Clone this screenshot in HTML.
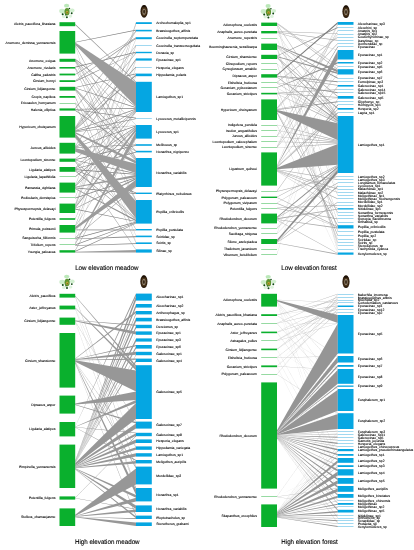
<!DOCTYPE html><html><head><meta charset="utf-8"><style>html,body{margin:0;padding:0;background:#fff;width:414px;height:550px;overflow:hidden}svg{display:block}text{font-family:"Liberation Sans",Arial,sans-serif;text-rendering:geometricPrecision}</style></head><body>
<svg width="414" height="550" viewBox="0 0 414 550">
<rect width="414" height="550" fill="#fff"/>
<g fill="#a3a3a3">
<polygon points="75.2,131.44 136,125.28 136,125.57 75.2,131.96" fill="#7e7e7e"/>
<polygon points="75.2,59.4 136,125 136,125.28 75.2,60" fill="#7e7e7e"/>
<polygon points="75.2,89.67 136,200.87 136,201.16 75.2,90.27" fill="#7e7e7e"/>
<polygon points="75.2,205.2 136,45.96 136,46.3 75.2,205.8" fill="#7e7e7e"/>
<polygon points="75.2,206.4 136,111.65 136,112 75.2,207" fill="#7e7e7e"/>
<polygon points="75.2,185 136,38.8 136,39.2 75.2,185.6" fill="#7e7e7e"/>
<polygon points="75.2,81.1 136,52.4 136,52.8 75.2,81.7" fill="#7e7e7e"/>
<polygon points="75.2,128.34 136,52.8 136,53.2 75.2,128.94" fill="#7e7e7e"/>
<polygon points="75.2,205.8 136,59.8 136,60.2 75.2,206.4" fill="#7e7e7e"/>
<polygon points="75.2,242.94 136,60.2 136,60.6 75.2,243.54" fill="#7e7e7e"/>
<polygon points="75.2,225.85 136,67.6 136,68 75.2,226.45" fill="#7e7e7e"/>
<polygon points="75.2,218.7 136,75.8 136,76.2 75.2,219.3" fill="#7e7e7e"/>
<polygon points="75.2,147.51 136,144.6 136,145 75.2,148.11" fill="#7e7e7e"/>
<polygon points="75.2,110.1 136,151.3 136,151.7 75.2,110.7" fill="#7e7e7e"/>
<polygon points="75.2,137.26 136,229 136,229.4 75.2,137.86" fill="#7e7e7e"/>
<polygon points="75.2,96.6 136,235.6 136,236 75.2,97.2" fill="#7e7e7e"/>
<polygon points="75.2,103.1 136,242.8 136,243.2 75.2,103.7" fill="#7e7e7e"/>
<polygon points="75.2,60 136,144.2 136,144.6 75.2,60.6" fill="#7e7e7e"/>
<polygon points="75.2,45.4 136,242.4 136,242.8 75.2,46" fill="#7e7e7e"/>
<polygon points="75.2,167.66 136,110.52 136,111.05 75.2,168.14" fill="#7e7e7e"/>
<polygon points="75.2,197.2 136,45.53 136,45.96 75.2,197.8" fill="#7e7e7e"/>
<polygon points="75.2,127.74 136,45.1 136,45.53 75.2,128.34" fill="#7e7e7e"/>
<polygon points="75.2,61.2 136,200 136,200.43 75.2,61.8" fill="#7e7e7e"/>
<polygon points="75.2,67.45 136,159.14 136,159.58 75.2,68.05" fill="#7e7e7e"/>
<polygon points="75.2,102.5 136,160.19 136,160.63 75.2,103.1" fill="#7e7e7e"/>
<polygon points="75.2,44.8 136,158 136,158.44 75.2,45.4" fill="#7e7e7e"/>
<polygon points="75.2,146.39 136,109.52 136,110.05 75.2,146.91" fill="#7e7e7e"/>
<polygon points="75.2,176.6 136,126.91 136,127.35 75.2,177.2" fill="#7e7e7e"/>
<polygon points="75.2,226.45 136,131.13 136,131.58 75.2,227.05" fill="#7e7e7e"/>
<polygon points="75.2,158.72 136,110.05 136,110.52 75.2,159.32" fill="#7e7e7e"/>
<polygon points="75.2,108.3 136,30.4 136,30.9 75.2,108.9" fill="#7e7e7e"/>
<polygon points="75.2,127.14 136,30.9 136,31.4 75.2,127.74" fill="#7e7e7e"/>
<polygon points="75.2,88.33 136,150.8 136,151.3 75.2,88.93" fill="#7e7e7e"/>
<polygon points="75.2,68.05 136,200.43 136,200.87 75.2,68.75" fill="#7e7e7e"/>
<polygon points="75.2,160.48 136,218.66 136,219.24 75.2,161.08" fill="#7e7e7e"/>
<polygon points="75.2,170.54 136,219.24 136,219.81 75.2,171.14" fill="#7e7e7e"/>
<polygon points="75.2,208.8 136,221.25 136,221.82 75.2,209.4" fill="#7e7e7e"/>
<polygon points="75.2,238.1 136,221.82 136,222.4 75.2,238.7" fill="#7e7e7e"/>
<polygon points="75.2,251.04 136,223.03 136,223.6 75.2,251.64" fill="#7e7e7e"/>
<polygon points="75.2,108.9 136,108.05 136,108.64 75.2,109.5" fill="#7e7e7e"/>
<polygon points="75.2,185.6 136,111.05 136,111.65 75.2,186.2" fill="#7e7e7e"/>
<polygon points="75.2,250.36 136,138.08 136,138.6 75.2,251.04" fill="#7e7e7e"/>
<polygon points="75.2,130.84 136,118.4 136,119 75.2,131.44" fill="#7e7e7e"/>
<polygon points="75.2,161.08 136,249.4 136,250 75.2,161.68" fill="#7e7e7e"/>
<polygon points="75.2,74.2 136,37.2 136,37.8 75.2,74.8" fill="#7e7e7e"/>
<polygon points="75.2,66.85 136,51.8 136,52.4 75.2,67.45" fill="#7e7e7e"/>
<polygon points="75.2,42 136,29.8 136,30.4 75.2,42.6" fill="#7e7e7e"/>
<polygon points="75.2,87.13 136,73.6 136,74.2 75.2,87.73" fill="#7e7e7e"/>
<polygon points="75.2,109.5 136,117.8 136,118.4 75.2,110.1" fill="#7e7e7e"/>
<polygon points="75.2,159.92 136,173.33 136,173.98 75.2,160.48" fill="#7e7e7e"/>
<polygon points="75.2,237.5 136,186.38 136,187 75.2,238.1" fill="#7e7e7e"/>
<polygon points="75.2,146.91 136,125.57 136,126.24 75.2,147.51" fill="#7e7e7e"/>
<polygon points="75.2,168.14 136,126.24 136,126.91 75.2,168.74" fill="#7e7e7e"/>
<polygon points="75.2,168.74 136,151.7 136,152.4 75.2,169.34" fill="#7e7e7e"/>
<polygon points="75.2,169.94 136,192.6 136,193.3 75.2,170.54" fill="#7e7e7e"/>
<polygon points="75.2,187.6 136,193.3 136,194 75.2,188.2" fill="#7e7e7e"/>
<polygon points="75.2,197.8 136,177.36 136,178.06 75.2,198.4" fill="#7e7e7e"/>
<polygon points="75.2,60.6 136,158.44 136,159.14 75.2,61.2" fill="#7e7e7e"/>
<polygon points="75.2,58.8 136,106.51 136,107.22 75.2,59.4" fill="#7e7e7e"/>
<polygon points="75.2,88.93 136,159.58 136,160.19 75.2,89.67" fill="#7e7e7e"/>
<polygon points="75.2,244.54 136,222.4 136,223.03 75.2,245.26" fill="#7e7e7e"/>
<polygon points="75.2,186.2 136,127.35 136,128.13 75.2,186.8" fill="#7e7e7e"/>
<polygon points="75.2,245.26 136,243.2 136,244 75.2,245.86" fill="#7e7e7e"/>
<polygon points="75.2,128.94 136,66.8 136,67.6 75.2,129.54" fill="#7e7e7e"/>
<polygon points="75.2,236.9 136,23.2 136,24 75.2,237.5" fill="#7e7e7e"/>
<polygon points="75.2,159.32 136,145 136,145.8 75.2,159.92" fill="#7e7e7e"/>
<polygon points="75.2,87.73 136,107.22 136,108.05 75.2,88.33" fill="#7e7e7e"/>
<polygon points="75.2,169.34 136,173.98 136,174.86 75.2,169.94" fill="#7e7e7e"/>
<polygon points="75.2,130.24 136,108.64 136,109.52 75.2,130.84" fill="#7e7e7e"/>
<polygon points="75.2,204.6 136,22.2 136,23.2 75.2,205.2" fill="#939393"/>
<polygon points="75.2,80.5 136,37.8 136,38.8 75.2,81.1" fill="#939393"/>
<polygon points="75.2,229.55 136,229.4 136,230.4 75.2,230.15" fill="#939393"/>
<polygon points="75.2,24.1 136,81.8 136,82.51 75.2,25.1" fill="#939393"/>
<polygon points="75.2,238.7 136,236 136,237.2 75.2,239.3" fill="#939393"/>
<polygon points="75.2,208.2 136,178.06 136,179.38 75.2,208.8" fill="#939393"/>
<polygon points="75.2,145.79 136,58.4 136,59.8 75.2,146.39" fill="#939393"/>
<polygon points="75.2,188.2 136,219.81 136,221.25 75.2,189" fill="#939393"/>
<polygon points="75.2,129.54 136,74.2 136,75.8 75.2,130.24" fill="#939393"/>
<polygon points="75.2,186.8 136,174.86 136,177.36 75.2,187.6" fill="#9c9c9c"/>
<polygon points="75.2,251.64 136,250 136,252.6 75.2,252.44" fill="#9c9c9c"/>
<polygon points="75.2,207 136,128.13 136,131.13 75.2,208.2" fill="#9c9c9c"/>
<polygon points="75.2,131.96 136,160.63 136,163.63 75.2,133.46" fill="#9c9c9c"/>
<polygon points="75.2,243.54 136,131.58 136,138.08 75.2,244.54" fill="#9c9c9c"/>
<polygon points="75.2,227.05 136,179.38 136,186.38 75.2,229.55" fill="#9c9c9c"/>
<polygon points="75.2,148.11 136,163.63 136,173.33 75.2,151.81" fill="#9c9c9c"/>
<polygon points="75.2,133.46 136,201.16 136,218.66 75.2,137.26" fill="#9c9c9c"/>
<polygon points="75.2,42.6 136,82.51 136,106.51 75.2,44.8" fill="#9c9c9c"/>
</g>
<g fill="rgb(10,176,45)">
<rect x="59.5" y="22.2" width="15.7" height="4"/>
<rect x="59.5" y="31" width="15.7" height="22.6"/>
<rect x="59.5" y="58.8" width="15.7" height="3"/>
<rect x="59.5" y="67" width="15.7" height="1.6"/>
<rect x="59.5" y="73.6" width="15.7" height="1.8"/>
<rect x="59.5" y="80.2" width="15.7" height="1.8"/>
<rect x="59.5" y="86.8" width="15.7" height="3.8"/>
<rect x="59.5" y="96" width="15.7" height="1.8"/>
<rect x="59.5" y="103" width="15.7" height="1" fill="rgb(150,218,162)"/>
<rect x="59.5" y="108.4" width="15.7" height="2.2"/>
<rect x="59.5" y="116" width="15.7" height="21.6"/>
<rect x="59.5" y="142.8" width="15.7" height="10.8"/>
<rect x="59.5" y="158.6" width="15.7" height="3.2"/>
<rect x="59.5" y="167" width="15.7" height="4.8"/>
<rect x="59.5" y="176" width="15.7" height="1" fill="rgb(150,218,162)"/>
<rect x="59.5" y="182.6" width="15.7" height="10"/>
<rect x="59.5" y="197" width="15.7" height="1" fill="rgb(150,218,162)"/>
<rect x="59.5" y="203.6" width="15.7" height="9.4"/>
<rect x="59.5" y="218.2" width="15.7" height="1.6"/>
<rect x="59.5" y="225" width="15.7" height="7.6"/>
<rect x="59.5" y="238" width="15.7" height="1" fill="rgb(150,218,162)"/>
<rect x="59.5" y="244" width="15.7" height="1" fill="rgb(150,218,162)"/>
<rect x="59.5" y="250.2" width="15.7" height="2.4"/>
</g>
<g fill="rgb(5,166,226)">
<rect x="136" y="22.2" width="15.8" height="1.8"/>
<rect x="136" y="29.8" width="15.8" height="1.6"/>
<rect x="136" y="37.2" width="15.8" height="2"/>
<rect x="136" y="45" width="15.8" height="1" fill="rgb(160,216,240)"/>
<rect x="136" y="51.8" width="15.8" height="1.4"/>
<rect x="136" y="58.4" width="15.8" height="2.2"/>
<rect x="136" y="67" width="15.8" height="1" fill="rgb(160,216,240)"/>
<rect x="136" y="73.6" width="15.8" height="2.6"/>
<rect x="136" y="81.8" width="15.8" height="30.2"/>
<rect x="136" y="118" width="15.8" height="1" fill="rgb(160,216,240)"/>
<rect x="136" y="125" width="15.8" height="13.6"/>
<rect x="136" y="144.2" width="15.8" height="1.6"/>
<rect x="136" y="150.8" width="15.8" height="1.6"/>
<rect x="136" y="158" width="15.8" height="29"/>
<rect x="136" y="192.6" width="15.8" height="1.4"/>
<rect x="136" y="200" width="15.8" height="23.6"/>
<rect x="136" y="229" width="15.8" height="1.4"/>
<rect x="136" y="235.6" width="15.8" height="1.6"/>
<rect x="136" y="242.4" width="15.8" height="1.6"/>
<rect x="136" y="249.4" width="15.8" height="3.2"/>
</g>
<g font-size="3.4" fill="#000" stroke="#000" stroke-width="0.08" text-anchor="end">
<text x="55.5" y="25.42">Aletris_pauciflora_khasiana</text>
<text x="55.5" y="43.52">Anemone_demissa_yunnanensis</text>
<text x="55.5" y="61.52">Anemone_exigua</text>
<text x="55.5" y="69.02">Anemone_rivularis</text>
<text x="55.5" y="75.72">Caltha_palustris</text>
<text x="55.5" y="82.32">Cirsium_henryi</text>
<text x="55.5" y="89.92">Cirsium_lidjiangense</text>
<text x="55.5" y="98.12">Crepis_napifera</text>
<text x="55.5" y="104.32">Eriocaulon_henryanum</text>
<text x="55.5" y="110.72">Halenia_elliptica</text>
<text x="55.5" y="128.02">Hypericum_choisyanum</text>
<text x="55.5" y="149.42">Juncus_allioides</text>
<text x="55.5" y="161.42">Leontopodium_sinense</text>
<text x="55.5" y="170.62">Ligularia_alatipes</text>
<text x="55.5" y="178.12">Ligularia_lapathifolia</text>
<text x="55.5" y="188.82">Parnassia_vightiana</text>
<text x="55.5" y="199.02">Pedicularis_densispica</text>
<text x="55.5" y="209.52">Physospermopsis_delavayi</text>
<text x="55.5" y="220.22">Potentilla_fulgens</text>
<text x="55.5" y="230.02">Primula_poissonii</text>
<text x="55.5" y="239.32">Sanguisorba_filiformis</text>
<text x="55.5" y="245.62">Trifolium_repens</text>
<text x="55.5" y="252.62">Youngia_paleacea</text>
</g>
<g font-size="3.4" fill="#000" stroke="#000" stroke-width="0.08">
<text x="156.3" y="24.32">Archeohomaloplia_sp1</text>
<text x="156.3" y="31.82">Brassicogethes_affinis</text>
<text x="156.3" y="39.42">Coccinella_septempunctata</text>
<text x="156.3" y="46.92">Coccinella_transversoguttata</text>
<text x="156.3" y="53.72">Donacia_sp</text>
<text x="156.3" y="60.72">Epuraeinae_sp1</text>
<text x="156.3" y="68.62">Hesperia_elegans</text>
<text x="156.3" y="76.12">Hippodamia_polaris</text>
<text x="156.3" y="98.12">Lamiogethes_sp1</text>
<text x="156.3" y="119.62">Lycocerus_metallicipennis</text>
<text x="156.3" y="133.02">Lycocerus_sp1</text>
<text x="156.3" y="146.22">Meliboeus_sp</text>
<text x="156.3" y="152.82">Nonarthra_nigripenne</text>
<text x="156.3" y="173.72">Nonarthra_variabilis</text>
<text x="156.3" y="194.52">Platyrrhinus_nebulosus</text>
<text x="156.3" y="213.02">Popillia_cribricollis</text>
<text x="156.3" y="230.92">Popillia_pustulata</text>
<text x="156.3" y="237.62">Scirtidae_sp</text>
<text x="156.3" y="244.42">Scirtis_sp</text>
<text x="156.3" y="252.22">Silinae_sp</text>
</g>
<text x="106.8" y="270" font-size="6.7" text-anchor="middle" fill="#000" stroke="#000" stroke-width="0.12" textLength="63.3" lengthAdjust="spacingAndGlyphs">Low elevation meadow</text>
<g transform="translate(67,12.3)"><ellipse cx="-0.4" cy="-6.6" rx="2.6" ry="1.9" fill="#8ed88a" opacity="0.6"/><ellipse cx="-5.0" cy="-1.2" rx="2.8" ry="2.3" fill="#8ed88a" opacity="0.45"/><ellipse cx="5.2" cy="-1.8" rx="2.4" ry="1.9" fill="#8ed88a" opacity="0.4"/><ellipse cx="-3.2" cy="4.2" rx="1.8" ry="1.6" fill="#8ed88a" opacity="0.3"/><ellipse cx="3.4" cy="3.8" rx="1.8" ry="1.6" fill="#8ed88a" opacity="0.3"/><ellipse cx="0" cy="-0.6" rx="2.6" ry="3.8" fill="#4d8a1c" opacity=".9"/><ellipse cx="0.1" cy="0" rx="1.3" ry="1.6" fill="#b8a836"/><circle cx="0.1" cy="0.4" r=".6" fill="#6a5010"/><circle cx="-4.3" cy="1.9" r="1.0" fill="#0f4a12"/><circle cx="-0.1" cy="4.9" r="1.0" fill="#0f4a12"/><circle cx="4.7" cy="0.9" r="0.95" fill="#0f4a12"/><circle cx="2.4" cy="-3.8" r="0.8" fill="#0f4a12"/><circle cx="-1.2" cy="2.6" r="0.6" fill="#0f4a12"/></g>
<g transform="translate(144.1,11.3)"><ellipse cx="0" cy="0" rx="3.6" ry="6.4" fill="#2a1a0c"/><ellipse cx="0" cy="0.3" rx="2.6" ry="4.6" fill="#4a3418"/><ellipse cx="0" cy="0.4" rx="1.6" ry="3" fill="#9a8f80"/><ellipse cx="0" cy="0.4" rx="1" ry="2.1" fill="#3a2a18"/><ellipse cx="0" cy="-5" rx="1.8" ry="1" fill="#1a0f05"/></g>
<g fill="#a3a3a3">
<polygon points="277,32.25 337.8,50 337.8,50.18 277,32.65" fill="#ababab"/>
<polygon points="277,254.09 337.8,59.23 337.8,59.5 277,254.51" fill="#ababab"/>
<polygon points="277,63.46 337.8,119.75 337.8,120.16 277,63.76" fill="#ababab"/>
<polygon points="277,82.85 337.8,121.41 337.8,121.83 277,83.15" fill="#ababab"/>
<polygon points="277,233.18 337.8,58.98 337.8,59.23 277,233.72" fill="#ababab"/>
<polygon points="277,25.48 337.8,252.5 337.8,252.92 277,25.85" fill="#ababab"/>
<polygon points="277,31.35 337.8,33.5 337.8,33.92 277,31.75" fill="#ababab"/>
<polygon points="277,147.27 337.8,74.03 337.8,74.5 277,147.65" fill="#ababab"/>
<polygon points="277,24.42 337.8,192 337.8,192.36 277,24.92" fill="#ababab"/>
<polygon points="277,87.63 337.8,121.83 337.8,122.32 277,88" fill="#ababab"/>
<polygon points="277,125 337.8,252.92 337.8,253.31 277,125.5" fill="#ababab"/>
<polygon points="277,22.75 337.8,66 337.8,66.42 277,23.25" fill="#ababab"/>
<polygon points="277,227.63 337.8,98.11 337.8,98.7 277,227.98" fill="#ababab"/>
<polygon points="277,203.07 337.8,227.19 337.8,227.58 277,203.63" fill="#ababab"/>
<polygon points="277,166.82 337.8,109.1 337.8,109.7 277,167.18" fill="#ababab"/>
<polygon points="277,233.72 337.8,168.73 337.8,169.4 277,234.02" fill="#ababab"/>
<polygon points="277,108.95 337.8,97.68 337.8,98.11 277,109.49" fill="#ababab"/>
<polygon points="277,170.23 337.8,192.36 337.8,192.8 277,170.76" fill="#ababab"/>
<polygon points="277,171.16 337.8,208.2 337.8,208.84 277,171.51" fill="#ababab"/>
<polygon points="277,219.63 337.8,253.31 337.8,253.82 277,220.13" fill="#ababab"/>
<polygon points="277,136.13 337.8,66.42 337.8,67 277,136.56" fill="#ababab"/>
<polygon points="277,124.7 337.8,140.16 337.8,140.9 277,125" fill="#ababab"/>
<polygon points="277,130.15 337.8,140.9 337.8,141.65 277,130.45" fill="#ababab"/>
<polygon points="277,136.56 337.8,141.65 337.8,142.4 277,136.86" fill="#ababab"/>
<polygon points="277,141.75 337.8,142.4 337.8,143.15 277,142.05" fill="#ababab"/>
<polygon points="277,32.65 337.8,116.83 337.8,117.5 277,33.05" fill="#ababab"/>
<polygon points="277,170.76 337.8,198.5 337.8,199.2 277,171.16" fill="#ababab"/>
<polygon points="277,147.65 337.8,143.15 337.8,143.99 277,147.95" fill="#ababab"/>
<polygon points="277,196.87 337.8,164.79 337.8,165.62 277,197.17" fill="#ababab"/>
<polygon points="277,202.77 337.8,165.62 337.8,166.45 277,203.07" fill="#ababab"/>
<polygon points="277,146.25 337.8,23.52 337.8,24.14 277,146.75" fill="#ababab"/>
<polygon points="277,46.95 337.8,215 337.8,215.8 277,47.31" fill="#ababab"/>
<polygon points="277,107.8 337.8,33.92 337.8,34.5 277,108.39" fill="#ababab"/>
<polygon points="277,242.3 337.8,201.8 337.8,202.6 277,242.67" fill="#ababab"/>
<polygon points="277,47.75 337.8,245.5 337.8,246.3 277,48.13" fill="#ababab"/>
<polygon points="277,227.98 337.8,168.12 337.8,168.73 277,228.57" fill="#ababab"/>
<polygon points="277,37.89 337.8,195.2 337.8,196 277,38.31" fill="#ababab"/>
<polygon points="277,82.05 337.8,36.8 337.8,37.6 277,82.48" fill="#ababab"/>
<polygon points="277,165.29 337.8,24.14 337.8,24.8 277,165.86" fill="#ababab"/>
<polygon points="277,166.36 337.8,85.83 337.8,86.6 277,166.82" fill="#ababab"/>
<polygon points="277,93.66 337.8,122.32 337.8,123.16 277,94.06" fill="#ababab"/>
<polygon points="277,47.31 337.8,221.8 337.8,222.6 277,47.75" fill="#ababab"/>
<polygon points="277,217.87 337.8,182.5 337.8,183.3 277,218.33" fill="#ababab"/>
<polygon points="277,93.16 337.8,96.92 337.8,97.68 277,93.66" fill="#ababab"/>
<polygon points="277,94.06 337.8,239 337.8,239.8 277,94.53" fill="#ababab"/>
<polygon points="277,23.25 337.8,69.2 337.8,69.91 277,23.82" fill="#ababab"/>
<polygon points="277,169.75 337.8,188.8 337.8,189.6 277,170.23" fill="#ababab"/>
<polygon points="277,92.67 337.8,89.2 337.8,90 277,93.16" fill="#ababab"/>
<polygon points="277,207.78 337.8,205 337.8,205.8 277,208.27" fill="#ababab"/>
<polygon points="277,31.75 337.8,40 337.8,40.8 277,32.25" fill="#ababab"/>
<polygon points="277,191.14 337.8,176 337.8,176.8 277,191.65" fill="#ababab"/>
<polygon points="277,197.17 337.8,226.43 337.8,227.19 277,197.73" fill="#ababab"/>
<polygon points="277,76.2 337.8,85 337.8,85.83 277,76.7" fill="#ababab"/>
<polygon points="277,169.21 337.8,179.2 337.8,180 277,169.75" fill="#ababab"/>
<polygon points="277,208.27 337.8,218.5 337.8,219.3 277,208.82" fill="#ababab"/>
<polygon points="277,48.13 337.8,248.8 337.8,249.6 277,48.68" fill="#ababab"/>
<polygon points="277,108.39 337.8,43 337.8,43.8 277,108.95" fill="#ababab"/>
<polygon points="277,82.48 337.8,92.2 337.8,93.2 277,82.85" fill="#939393"/>
<polygon points="277,63.76 337.8,242.2 337.8,243.2 277,64.14" fill="#939393"/>
<polygon points="277,111.72 337.8,212 337.8,212.8 277,112.3" fill="#ababab"/>
<polygon points="277,190.75 337.8,104.3 337.8,105.3 277,191.14" fill="#939393"/>
<polygon points="277,135.54 337.8,30.2 337.8,31 277,136.13" fill="#ababab"/>
<polygon points="277,75.8 337.8,81.2 337.8,82.2 277,76.2" fill="#939393"/>
<polygon points="277,45.95 337.8,96 337.8,96.92 277,46.45" fill="#ababab"/>
<polygon points="277,219.13 337.8,227.58 337.8,228.5 277,219.63" fill="#ababab"/>
<polygon points="277,109.49 337.8,101.2 337.8,102.2 277,109.92" fill="#939393"/>
<polygon points="277,23.82 337.8,116 337.8,116.83 277,24.42" fill="#ababab"/>
<polygon points="277,218.33 337.8,208.84 337.8,209.5 277,219.13" fill="#ababab"/>
<polygon points="277,242.67 337.8,253.82 337.8,254.7 277,243.27" fill="#ababab"/>
<polygon points="277,46.45 337.8,117.5 337.8,118.5 277,46.95" fill="#ababab"/>
<polygon points="277,55.84 337.8,27 337.8,28 277,56.36" fill="#939393"/>
<polygon points="277,146.75 337.8,46.2 337.8,47.2 277,147.27" fill="#939393"/>
<polygon points="277,45.52 337.8,77.7 337.8,78.8 277,45.95" fill="#939393"/>
<polygon points="277,167.18 337.8,112.2 337.8,113.2 277,167.71" fill="#939393"/>
<polygon points="277,24.92 337.8,231.2 337.8,232.2 277,25.48" fill="#939393"/>
<polygon points="277,241.73 337.8,185.6 337.8,186.6 277,242.3" fill="#939393"/>
<polygon points="277,88 337.8,235 337.8,236.2 277,88.38" fill="#939393"/>
<polygon points="277,56.96 337.8,108 337.8,109.1 277,57.46" fill="#939393"/>
<polygon points="277,57.46 337.8,118.5 337.8,119.75 277,57.96" fill="#939393"/>
<polygon points="277,76.7 337.8,120.16 337.8,121.41 277,77.2" fill="#939393"/>
<polygon points="277,87.22 337.8,62 337.8,63.5 277,87.63" fill="#939393"/>
<polygon points="277,112.3 337.8,225.2 337.8,226.43 277,113.2" fill="#939393"/>
<polygon points="277,56.36 337.8,72.41 337.8,74.03 277,56.96" fill="#939393"/>
<polygon points="277,216.87 337.8,166.45 337.8,168.12 277,217.87" fill="#8e8e8e"/>
<polygon points="277,74.6 337.8,22 337.8,23.52 277,75.8" fill="#7a7a7a"/>
<polygon points="277,44.92 337.8,69.91 337.8,72.41 277,45.52" fill="#959595"/>
<polygon points="277,239.73 337.8,169.4 337.8,173 277,241.73" fill="#8a8a8a"/>
<polygon points="277,165.86 337.8,50.18 337.8,58.98 277,166.36" fill="#959595"/>
<polygon points="277,109.92 337.8,123.16 337.8,140.16 277,111.72" fill="#959595"/>
<polygon points="277,167.71 337.8,143.99 337.8,164.79 277,169.21" fill="#959595"/>
</g>
<g fill="rgb(10,176,45)">
<rect x="261.2" y="22.6" width="15.8" height="3.4"/>
<rect x="261.2" y="31" width="15.8" height="2.4"/>
<rect x="261.2" y="38" width="15.8" height="1" fill="rgb(150,218,162)"/>
<rect x="261.2" y="43.6" width="15.8" height="6.4"/>
<rect x="261.2" y="54.8" width="15.8" height="4.2"/>
<rect x="261.2" y="63" width="15.8" height="1" fill="rgb(150,218,162)"/>
<rect x="261.2" y="69" width="15.8" height="1" fill="rgb(150,218,162)"/>
<rect x="261.2" y="74.2" width="15.8" height="3.4"/>
<rect x="261.2" y="82" width="15.8" height="1" fill="rgb(150,218,162)"/>
<rect x="261.2" y="87" width="15.8" height="1" fill="rgb(150,218,162)"/>
<rect x="261.2" y="92.8" width="15.8" height="1.6"/>
<rect x="261.2" y="99.4" width="15.8" height="20.6"/>
<rect x="261.2" y="125" width="15.8" height="1" fill="rgb(150,218,162)"/>
<rect x="261.2" y="130" width="15.8" height="1" fill="rgb(150,218,162)"/>
<rect x="261.2" y="136" width="15.8" height="1" fill="rgb(150,218,162)"/>
<rect x="261.2" y="141" width="15.8" height="1" fill="rgb(150,218,162)"/>
<rect x="261.2" y="147" width="15.8" height="1" fill="rgb(150,218,162)"/>
<rect x="261.2" y="152.4" width="15.8" height="33.2"/>
<rect x="261.2" y="191" width="15.8" height="1" fill="rgb(150,218,162)"/>
<rect x="261.2" y="196.6" width="15.8" height="1.4"/>
<rect x="261.2" y="203" width="15.8" height="1" fill="rgb(150,218,162)"/>
<rect x="261.2" y="208" width="15.8" height="1" fill="rgb(150,218,162)"/>
<rect x="261.2" y="213.6" width="15.8" height="9.8"/>
<rect x="261.2" y="228" width="15.8" height="1" fill="rgb(150,218,162)"/>
<rect x="261.2" y="233" width="15.8" height="1" fill="rgb(150,218,162)"/>
<rect x="261.2" y="239" width="15.8" height="5"/>
<rect x="261.2" y="249" width="15.8" height="1" fill="rgb(150,218,162)"/>
<rect x="261.2" y="254" width="15.8" height="1" fill="rgb(150,218,162)"/>
</g>
<g fill="rgb(5,166,226)">
<rect x="337.8" y="22" width="15.7" height="2.8"/>
<rect x="337.8" y="27" width="15.7" height="1" fill="rgb(160,216,240)"/>
<rect x="337.8" y="30" width="15.7" height="1" fill="rgb(160,216,240)"/>
<rect x="337.8" y="34" width="15.7" height="1" fill="rgb(160,216,240)"/>
<rect x="337.8" y="37" width="15.7" height="1" fill="rgb(160,216,240)"/>
<rect x="337.8" y="40" width="15.7" height="1" fill="rgb(160,216,240)"/>
<rect x="337.8" y="43" width="15.7" height="1" fill="rgb(160,216,240)"/>
<rect x="337.8" y="46" width="15.7" height="1" fill="rgb(160,216,240)"/>
<rect x="337.8" y="50" width="15.7" height="9.5"/>
<rect x="337.8" y="62" width="15.7" height="1.5"/>
<rect x="337.8" y="66" width="15.7" height="1" fill="rgb(160,216,240)"/>
<rect x="337.8" y="69.2" width="15.7" height="5.3"/>
<rect x="337.8" y="78" width="15.7" height="1" fill="rgb(160,216,240)"/>
<rect x="337.8" y="81" width="15.7" height="1" fill="rgb(160,216,240)"/>
<rect x="337.8" y="85" width="15.7" height="1.6"/>
<rect x="337.8" y="89" width="15.7" height="1" fill="rgb(160,216,240)"/>
<rect x="337.8" y="92" width="15.7" height="1" fill="rgb(160,216,240)"/>
<rect x="337.8" y="96" width="15.7" height="2.7"/>
<rect x="337.8" y="101" width="15.7" height="1" fill="rgb(160,216,240)"/>
<rect x="337.8" y="104" width="15.7" height="1" fill="rgb(160,216,240)"/>
<rect x="337.8" y="108" width="15.7" height="1.7"/>
<rect x="337.8" y="112" width="15.7" height="1" fill="rgb(160,216,240)"/>
<rect x="337.8" y="116" width="15.7" height="57"/>
<rect x="337.8" y="176" width="15.7" height="1" fill="rgb(160,216,240)"/>
<rect x="337.8" y="179" width="15.7" height="1" fill="rgb(160,216,240)"/>
<rect x="337.8" y="182" width="15.7" height="1" fill="rgb(160,216,240)"/>
<rect x="337.8" y="186" width="15.7" height="1" fill="rgb(160,216,240)"/>
<rect x="337.8" y="189" width="15.7" height="1" fill="rgb(160,216,240)"/>
<rect x="337.8" y="192" width="15.7" height="1" fill="rgb(160,216,240)"/>
<rect x="337.8" y="195" width="15.7" height="1" fill="rgb(160,216,240)"/>
<rect x="337.8" y="198" width="15.7" height="1" fill="rgb(160,216,240)"/>
<rect x="337.8" y="202" width="15.7" height="1" fill="rgb(160,216,240)"/>
<rect x="337.8" y="205" width="15.7" height="1" fill="rgb(160,216,240)"/>
<rect x="337.8" y="208.2" width="15.7" height="1.3"/>
<rect x="337.8" y="212" width="15.7" height="1" fill="rgb(160,216,240)"/>
<rect x="337.8" y="215" width="15.7" height="1" fill="rgb(160,216,240)"/>
<rect x="337.8" y="218" width="15.7" height="1" fill="rgb(160,216,240)"/>
<rect x="337.8" y="222" width="15.7" height="1" fill="rgb(160,216,240)"/>
<rect x="337.8" y="225.2" width="15.7" height="3.3"/>
<rect x="337.8" y="231" width="15.7" height="1" fill="rgb(160,216,240)"/>
<rect x="337.8" y="235" width="15.7" height="1" fill="rgb(160,216,240)"/>
<rect x="337.8" y="239" width="15.7" height="1" fill="rgb(160,216,240)"/>
<rect x="337.8" y="242" width="15.7" height="1" fill="rgb(160,216,240)"/>
<rect x="337.8" y="245" width="15.7" height="1" fill="rgb(160,216,240)"/>
<rect x="337.8" y="249" width="15.7" height="1" fill="rgb(160,216,240)"/>
<rect x="337.8" y="252.5" width="15.7" height="2.2"/>
</g>
<g font-size="3.4" fill="#000" stroke="#000" stroke-width="0.08" text-anchor="end">
<text x="256.9" y="25.52">Adenophora_coelestis</text>
<text x="256.9" y="33.42">Anaphalis_aureo-punctata</text>
<text x="256.9" y="39.32">Anemone_rupestris</text>
<text x="256.9" y="48.02">Boenninghausenia_sessilicarpa</text>
<text x="256.9" y="58.12">Cirsium_shansiense</text>
<text x="256.9" y="65.02">Clinopodium_repens</text>
<text x="256.9" y="70.42">Cynoglossum_amabile</text>
<text x="256.9" y="77.12">Dipsacus_asper</text>
<text x="256.9" y="83.82">Elsholtzia_fruticosa</text>
<text x="256.9" y="89.02">Geranium_pylzowianum</text>
<text x="256.9" y="94.82">Geranium_strictipes</text>
<text x="256.9" y="110.92">Hypericum_choisyanum</text>
<text x="256.9" y="126.32">Indigofera_pendula</text>
<text x="256.9" y="131.52">Isodon_angustifolius</text>
<text x="256.9" y="137.42">Juncus_allioides</text>
<text x="256.9" y="143.12">Leontopodium_calocephalum</text>
<text x="256.9" y="148.32">Leontopodium_sinense</text>
<text x="256.9" y="170.22">Ligustrum_quihoui</text>
<text x="256.9" y="192.42">Physospermopsis_delavayi</text>
<text x="256.9" y="198.52">Polygonum_paleaceum</text>
<text x="256.9" y="204.42">Polygonum_viviparum</text>
<text x="256.9" y="209.52">Potentilla_fulgens</text>
<text x="256.9" y="219.72">Rhododendron_decorum</text>
<text x="256.9" y="229.32">Rhododendron_yunnanense</text>
<text x="256.9" y="234.82">Saxifraga_strigosa</text>
<text x="256.9" y="242.72">Silene_asclepiadea</text>
<text x="256.9" y="250.32">Thalictrum_javanicum</text>
<text x="256.9" y="255.52">Viburnum_betulifolium</text>
</g>
<g font-size="3.4" fill="#000" stroke="#000" stroke-width="0.08">
<text x="357.8" y="24.62">Aleocharinae_sp3</text>
<text x="357.8" y="28.72">Aleochini_sp</text>
<text x="357.8" y="31.82">Anaspis_sp1</text>
<text x="357.8" y="35.22">Anaspis_sp2</text>
<text x="357.8" y="38.42">Ceutorhynchinae_sp</text>
<text x="357.8" y="41.62">Dasytinae_sp</text>
<text x="357.8" y="44.62">Dermestidae_sp</text>
<text x="357.8" y="47.92">Epuraeinae</text>
<text x="357.8" y="55.97">Epuraeinae_sp1</text>
<text x="357.8" y="63.97">Epuraeinae_sp2</text>
<text x="357.8" y="67.72">Epuraeinae_sp5</text>
<text x="357.8" y="73.07">Epuraeinae_sp6</text>
<text x="357.8" y="79.47">Epuraeinae_sp7</text>
<text x="357.8" y="82.92">Eumolpinae_sp3</text>
<text x="357.8" y="87.02">Galerucinae_sp1</text>
<text x="357.8" y="90.82">Galerucinae_sp14</text>
<text x="357.8" y="93.92">Galerucinae_sp15</text>
<text x="357.8" y="98.57">Galerucinae_sp5</text>
<text x="357.8" y="102.92">Glyphonyx_sp</text>
<text x="357.8" y="106.02">Hemipyxis_sp1</text>
<text x="357.8" y="110.07">Hesperia_sp2</text>
<text x="357.8" y="113.92">Lagria_sp1</text>
<text x="357.8" y="145.72">Lamiogethes_sp1</text>
<text x="357.8" y="177.62">Lamiogethes_sp2</text>
<text x="357.8" y="180.82">Lamiogethes_sp3</text>
<text x="357.8" y="184.12">Longitarsus_bimaculatus</text>
<text x="357.8" y="187.32">Lycocerus_sp1</text>
<text x="357.8" y="190.42">Malachiinae_sp1</text>
<text x="357.8" y="193.62">Malachiinae_sp2</text>
<text x="357.8" y="196.82">Meligethinae_sp1</text>
<text x="357.8" y="200.07">Meligethinae_hochungensis</text>
<text x="357.8" y="203.42">Mordellidae_sp1</text>
<text x="357.8" y="206.62">Mordellidae_sp2</text>
<text x="357.8" y="210.07">Nitidulinae_sp1</text>
<text x="357.8" y="213.62">Nonarthra_formosensis</text>
<text x="357.8" y="216.62">Nonarthra_variabilis</text>
<text x="357.8" y="220.12">Oenopia_flavidbrunna</text>
<text x="357.8" y="223.42">Orthaltica_sp</text>
<text x="357.8" y="228.07">Popillia_cribricollis</text>
<text x="357.8" y="232.92">Popillia_pustulata</text>
<text x="357.8" y="236.82">Popillia_sp2</text>
<text x="357.8" y="240.62">Scirtidae_sp</text>
<text x="357.8" y="243.92">Scirtis_sp</text>
<text x="357.8" y="247.12">Stenoluperus_sp</text>
<text x="357.8" y="250.42">Trachystola_cyanea</text>
<text x="357.8" y="254.82">Xenylomoderes_sp</text>
</g>
<text x="309" y="270" font-size="6.7" text-anchor="middle" fill="#000" stroke="#000" stroke-width="0.12" textLength="55.4" lengthAdjust="spacingAndGlyphs">Low elevation forest</text>
<g transform="translate(268.5,12.6)"><ellipse cx="-0.4" cy="-6.6" rx="2.6" ry="1.9" fill="#8ed88a" opacity="0.6"/><ellipse cx="-5.0" cy="-1.2" rx="2.8" ry="2.3" fill="#8ed88a" opacity="0.45"/><ellipse cx="5.2" cy="-1.8" rx="2.4" ry="1.9" fill="#8ed88a" opacity="0.4"/><ellipse cx="-3.2" cy="4.2" rx="1.8" ry="1.6" fill="#8ed88a" opacity="0.3"/><ellipse cx="3.4" cy="3.8" rx="1.8" ry="1.6" fill="#8ed88a" opacity="0.3"/><ellipse cx="0" cy="-0.6" rx="2.6" ry="3.8" fill="#4d8a1c" opacity=".9"/><ellipse cx="0.1" cy="0" rx="1.3" ry="1.6" fill="#b8a836"/><circle cx="0.1" cy="0.4" r=".6" fill="#6a5010"/><circle cx="-4.3" cy="1.9" r="1.0" fill="#0f4a12"/><circle cx="-0.1" cy="4.9" r="1.0" fill="#0f4a12"/><circle cx="4.7" cy="0.9" r="0.95" fill="#0f4a12"/><circle cx="2.4" cy="-3.8" r="0.8" fill="#0f4a12"/><circle cx="-1.2" cy="2.6" r="0.6" fill="#0f4a12"/></g>
<g transform="translate(346,11.6)"><ellipse cx="0" cy="0" rx="3.6" ry="6.4" fill="#2a1a0c"/><ellipse cx="0" cy="0.3" rx="2.6" ry="4.6" fill="#4a3418"/><ellipse cx="0" cy="0.4" rx="1.6" ry="3" fill="#9a8f80"/><ellipse cx="0" cy="0.4" rx="1" ry="2.1" fill="#3a2a18"/><ellipse cx="0" cy="-5" rx="1.8" ry="1" fill="#1a0f05"/></g>
<g fill="#a3a3a3">
<polygon points="75.2,462.85 136,354.8 136,355.2 75.2,463.05" fill="#7e7e7e"/>
<polygon points="75.2,462.05 136,334.4 136,334.8 75.2,462.25" fill="#7e7e7e"/>
<polygon points="75.2,307.95 136,446.4 136,446.79 75.2,308.25" fill="#7e7e7e"/>
<polygon points="75.2,497.75 136,435.77 136,436.2 75.2,498.05" fill="#7e7e7e"/>
<polygon points="75.2,498.05 136,509.07 136,509.62 75.2,498.25" fill="#7e7e7e"/>
<polygon points="75.2,427 136,432.8 136,433.27 75.2,427.3" fill="#7e7e7e"/>
<polygon points="75.2,321.25 136,421.6 136,422.1 75.2,321.55" fill="#7e7e7e"/>
<polygon points="75.2,361.8 136,446.79 136,447.3 75.2,362.1" fill="#7e7e7e"/>
<polygon points="75.2,516.65 136,518.28 136,519 75.2,516.85" fill="#7e7e7e"/>
<polygon points="75.2,296.35 136,466.6 136,467.27 75.2,296.65" fill="#7e7e7e"/>
<polygon points="75.2,308.25 136,488 136,488.73 75.2,308.55" fill="#7e7e7e"/>
<polygon points="75.2,321.55 136,488.73 136,489.47 75.2,321.85" fill="#7e7e7e"/>
<polygon points="75.2,363.2 136,515.6 136,516.49 75.2,363.5" fill="#7e7e7e"/>
<polygon points="75.2,320.15 136,324.8 136,325.8 75.2,320.45" fill="#939393"/>
<polygon points="75.2,427.3 136,460 136,461 75.2,427.6" fill="#939393"/>
<polygon points="75.2,362.1 136,467.27 136,468.4 75.2,362.4" fill="#939393"/>
<polygon points="75.2,359 136,345 136,346.2 75.2,359.3" fill="#939393"/>
<polygon points="75.2,359.9 136,358.6 136,359.8 75.2,360.2" fill="#939393"/>
<polygon points="75.2,461.15 136,313 136,314.4 75.2,461.45" fill="#939393"/>
<polygon points="75.2,404.6 136,422.1 136,423.6 75.2,405" fill="#939393"/>
<polygon points="75.2,469.15 136,516.49 136,518.28 75.2,469.45" fill="#939393"/>
<polygon points="75.2,358.5 136,311 136,313 75.2,359" fill="#979797"/>
<polygon points="75.2,463.05 136,359.8 136,362 75.2,463.35" fill="#979797"/>
<polygon points="75.2,516.35 136,509.62 136,512 75.2,516.65" fill="#979797"/>
<polygon points="75.2,461.75 136,325.8 136,328.2 75.2,462.05" fill="#979797"/>
<polygon points="75.2,462.55 136,346.2 136,348.6 75.2,462.85" fill="#979797"/>
<polygon points="75.2,467.75 136,461 136,463.4 75.2,468.15" fill="#979797"/>
<polygon points="75.2,426.4 136,293.6 136,296.1 75.2,426.7" fill="#979797"/>
<polygon points="75.2,466.15 136,433.27 136,435.77 75.2,466.55" fill="#979797"/>
<polygon points="75.2,466.95 136,447.3 136,449.8 75.2,467.35" fill="#979797"/>
<polygon points="75.2,295.75 136,365.2 136,367.52 75.2,296.35" fill="#979797"/>
<polygon points="75.2,426.7 136,400.1 136,403 75.2,427" fill="#979797"/>
<polygon points="75.2,468.15 136,494.98 136,497.73 75.2,468.65" fill="#979797"/>
<polygon points="75.2,462.25 136,338.4 136,341.6 75.2,462.55" fill="#979797"/>
<polygon points="75.2,307.45 136,367.52 136,370.6 75.2,307.95" fill="#979797"/>
<polygon points="75.2,359.3 136,351.8 136,354.8 75.2,359.9" fill="#979797"/>
<polygon points="75.2,320.45 136,331.4 136,334.4 75.2,321.25" fill="#979797"/>
<polygon points="75.2,467.35 136,453.2 136,456.6 75.2,467.75" fill="#979797"/>
<polygon points="75.2,461.45 136,317.8 136,321.4 75.2,461.75" fill="#979797"/>
<polygon points="75.2,460.85 136,304 136,307.6 75.2,461.15" fill="#979797"/>
<polygon points="75.2,466.55 136,439.4 136,443 75.2,466.95" fill="#979797"/>
<polygon points="75.2,516.85 136,522.4 136,526 75.2,517.25" fill="#979797"/>
<polygon points="75.2,515.95 136,497.73 136,501.4 75.2,516.35" fill="#979797"/>
<polygon points="75.2,468.65 136,505.4 136,509.07 75.2,469.15" fill="#979797"/>
<polygon points="75.2,460.55 136,296.1 136,300.6 75.2,460.85" fill="#979797"/>
<polygon points="75.2,465.35 136,423.6 136,428.6 75.2,466.15" fill="#979797"/>
<polygon points="75.2,362.4 136,489.47 136,494.98 75.2,363.2" fill="#979797"/>
<polygon points="75.2,403.6 136,391.6 136,400.1 75.2,404.6" fill="#979797"/>
<polygon points="75.2,514.75 136,468.4 136,484.4 75.2,515.95" fill="#979797"/>
<polygon points="75.2,463.35 136,403 136,419 75.2,465.35" fill="#979797"/>
<polygon points="75.2,360.2 136,370.6 136,391.6 75.2,361.8" fill="#979797"/>
</g>
<g fill="rgb(10,176,45)">
<rect x="59.5" y="293.8" width="15.7" height="3.8"/>
<rect x="59.5" y="305.6" width="15.7" height="3.8"/>
<rect x="59.5" y="317.6" width="15.7" height="7.2"/>
<rect x="59.5" y="333" width="15.7" height="54.6"/>
<rect x="59.5" y="395.6" width="15.7" height="18"/>
<rect x="59.5" y="422" width="15.7" height="14.4"/>
<rect x="59.5" y="444.6" width="15.7" height="43.4"/>
<rect x="59.5" y="496.4" width="15.7" height="3.2"/>
<rect x="59.5" y="508.4" width="15.7" height="17.6"/>
</g>
<g fill="rgb(5,166,226)">
<rect x="136" y="293.6" width="15.8" height="7"/>
<rect x="136" y="304" width="15.8" height="3.6"/>
<rect x="136" y="311" width="15.8" height="3.4"/>
<rect x="136" y="317.8" width="15.8" height="3.6"/>
<rect x="136" y="324.8" width="15.8" height="3.4"/>
<rect x="136" y="331.4" width="15.8" height="3.4"/>
<rect x="136" y="338.4" width="15.8" height="3.2"/>
<rect x="136" y="345" width="15.8" height="3.6"/>
<rect x="136" y="351.8" width="15.8" height="3.4"/>
<rect x="136" y="358.6" width="15.8" height="3.4"/>
<rect x="136" y="365.2" width="15.8" height="53.8"/>
<rect x="136" y="421.6" width="15.8" height="7"/>
<rect x="136" y="432.8" width="15.8" height="3.4"/>
<rect x="136" y="439.4" width="15.8" height="3.6"/>
<rect x="136" y="446.4" width="15.8" height="3.4"/>
<rect x="136" y="453.2" width="15.8" height="3.4"/>
<rect x="136" y="460" width="15.8" height="3.4"/>
<rect x="136" y="466.6" width="15.8" height="17.8"/>
<rect x="136" y="488" width="15.8" height="13.4"/>
<rect x="136" y="505.4" width="15.8" height="6.6"/>
<rect x="136" y="515.6" width="15.8" height="3.4"/>
<rect x="136" y="522.4" width="15.8" height="3.6"/>
</g>
<g font-size="3.4" fill="#000" stroke="#000" stroke-width="0.08" text-anchor="end">
<text x="55.5" y="296.92">Aletris_pauciflora</text>
<text x="55.5" y="308.72">Aster_jeffreyanus</text>
<text x="55.5" y="322.42">Cirsium_lidjiangense</text>
<text x="55.5" y="361.52">Cirsium_shansiense</text>
<text x="55.5" y="405.82">Dipsacus_asper</text>
<text x="55.5" y="430.42">Ligularia_alatipes</text>
<text x="55.5" y="467.52">Pimpinella_yunnanensis</text>
<text x="55.5" y="499.22">Potentilla_fulgens</text>
<text x="55.5" y="518.42">Stellera_chamaejasme</text>
</g>
<g font-size="3.4" fill="#000" stroke="#000" stroke-width="0.08">
<text x="156.3" y="298.32">Aleocharinae_sp1</text>
<text x="156.3" y="307.02">Aleocharinae_sp2</text>
<text x="156.3" y="313.92">Antherophagus_sp</text>
<text x="156.3" y="320.82">Brassicogethes_affinis</text>
<text x="156.3" y="327.72">Dereiomus_sp</text>
<text x="156.3" y="334.32">Epuraeinae_sp1</text>
<text x="156.3" y="341.22">Epuraeinae_sp3</text>
<text x="156.3" y="348.02">Epuraeinae_sp6</text>
<text x="156.3" y="354.72">Galerucinae_sp1</text>
<text x="156.3" y="361.52">Galerucinae_sp4</text>
<text x="156.3" y="393.32">Galerucinae_sp5</text>
<text x="156.3" y="426.32">Galerucinae_sp7</text>
<text x="156.3" y="435.72">Galerucinae_sp8</text>
<text x="156.3" y="442.42">Hesperia_elegans</text>
<text x="156.3" y="449.32">Hippodamia_variegata</text>
<text x="156.3" y="456.12">Lamiogethes_sp1</text>
<text x="156.3" y="462.92">Meligethes_auripilis</text>
<text x="156.3" y="476.72">Mordellidae_sp3</text>
<text x="156.3" y="495.92">Nonarthra_sp1</text>
<text x="156.3" y="509.92">Nonarthra_variabilis</text>
<text x="156.3" y="518.52">Pleptotrachelus_sp</text>
<text x="156.3" y="525.42">Stenotherus_grahami</text>
</g>
<text x="107.3" y="543.9" font-size="6.7" text-anchor="middle" fill="#000" stroke="#000" stroke-width="0.12" textLength="64.6" lengthAdjust="spacingAndGlyphs">High elevation meadow</text>
<g transform="translate(67.1,283.2)"><ellipse cx="-0.4" cy="-6.6" rx="2.6" ry="1.9" fill="#8ed88a" opacity="0.6"/><ellipse cx="-5.0" cy="-1.2" rx="2.8" ry="2.3" fill="#8ed88a" opacity="0.45"/><ellipse cx="5.2" cy="-1.8" rx="2.4" ry="1.9" fill="#8ed88a" opacity="0.4"/><ellipse cx="-3.2" cy="4.2" rx="1.8" ry="1.6" fill="#8ed88a" opacity="0.3"/><ellipse cx="3.4" cy="3.8" rx="1.8" ry="1.6" fill="#8ed88a" opacity="0.3"/><ellipse cx="0" cy="-0.6" rx="2.6" ry="3.8" fill="#4d8a1c" opacity=".9"/><ellipse cx="0.1" cy="0" rx="1.3" ry="1.6" fill="#b8a836"/><circle cx="0.1" cy="0.4" r=".6" fill="#6a5010"/><circle cx="-4.3" cy="1.9" r="1.0" fill="#0f4a12"/><circle cx="-0.1" cy="4.9" r="1.0" fill="#0f4a12"/><circle cx="4.7" cy="0.9" r="0.95" fill="#0f4a12"/><circle cx="2.4" cy="-3.8" r="0.8" fill="#0f4a12"/><circle cx="-1.2" cy="2.6" r="0.6" fill="#0f4a12"/></g>
<g transform="translate(143.9,281.6)"><ellipse cx="0" cy="0" rx="3.6" ry="6.4" fill="#2a1a0c"/><ellipse cx="0" cy="0.3" rx="2.6" ry="4.6" fill="#4a3418"/><ellipse cx="0" cy="0.4" rx="1.6" ry="3" fill="#9a8f80"/><ellipse cx="0" cy="0.4" rx="1" ry="2.1" fill="#3a2a18"/><ellipse cx="0" cy="-5" rx="1.8" ry="1" fill="#1a0f05"/></g>
<g fill="#a3a3a3">
<polygon points="277,496.25 337.8,410.82 337.8,411 277,496.4" fill="#b4b4b4"/>
<polygon points="277,332.62 337.8,413.58 337.8,413.76 277,332.77" fill="#b4b4b4"/>
<polygon points="277,511.6 337.8,431.55 337.8,431.8 277,511.7" fill="#b4b4b4"/>
<polygon points="277,511.7 337.8,434.55 337.8,434.8 277,511.8" fill="#b4b4b4"/>
<polygon points="277,511.8 337.8,440.55 337.8,440.8 277,511.9" fill="#b4b4b4"/>
<polygon points="277,511.9 337.8,446.75 337.8,447 277,512" fill="#b4b4b4"/>
<polygon points="277,299.82 337.8,302.3 337.8,302.52 277,299.97" fill="#b4b4b4"/>
<polygon points="277,349.62 337.8,458.4 337.8,458.67 277,349.77" fill="#b4b4b4"/>
<polygon points="277,374.1 337.8,303.08 337.8,303.3 277,374.3" fill="#b4b4b4"/>
<polygon points="277,315.35 337.8,356 337.8,356.23 277,315.55" fill="#b4b4b4"/>
<polygon points="277,323.6 337.8,389.36 337.8,389.59 277,323.8" fill="#b4b4b4"/>
<polygon points="277,340.75 337.8,323.27 337.8,323.5 277,340.95" fill="#b4b4b4"/>
<polygon points="277,349.42 337.8,389.59 337.8,389.82 277,349.62" fill="#b4b4b4"/>
<polygon points="277,366.52 337.8,486 337.8,486.28 277,366.67" fill="#b4b4b4"/>
<polygon points="277,374.3 337.8,413.76 337.8,414 277,374.5" fill="#b4b4b4"/>
<polygon points="277,332.42 337.8,369.3 337.8,369.55 277,332.62" fill="#b4b4b4"/>
<polygon points="277,366.32 337.8,369.55 337.8,369.8 277,366.52" fill="#b4b4b4"/>
<polygon points="277,323.4 337.8,323 337.8,323.27 277,323.6" fill="#b4b4b4"/>
<polygon points="277,357.53 337.8,356.23 337.8,356.5 277,357.73" fill="#b4b4b4"/>
<polygon points="277,332.02 337.8,302.52 337.8,302.8 277,332.22" fill="#b4b4b4"/>
<polygon points="277,340.25 337.8,302.8 337.8,303.08 277,340.45" fill="#b4b4b4"/>
<polygon points="277,301.37 337.8,369 337.8,369.3 277,301.57" fill="#b4b4b4"/>
<polygon points="277,357.73 337.8,469.2 337.8,469.55 277,357.88" fill="#b4b4b4"/>
<polygon points="277,496.8 337.8,506.5 337.8,506.86 277,496.95" fill="#b4b4b4"/>
<polygon points="277,437.78 337.8,500 337.8,500.45 277,437.88" fill="#b4b4b4"/>
<polygon points="277,438.18 337.8,517.5 337.8,517.95 277,438.28" fill="#b4b4b4"/>
<polygon points="277,438.28 337.8,523 337.8,523.45 277,438.38" fill="#b4b4b4"/>
<polygon points="277,301.57 337.8,389 337.8,389.36 277,301.77" fill="#b4b4b4"/>
<polygon points="277,301.77 337.8,413.2 337.8,413.58 277,301.97" fill="#b4b4b4"/>
<polygon points="277,496.4 337.8,465.98 337.8,466.37 277,496.6" fill="#b4b4b4"/>
<polygon points="277,301.97 337.8,458 337.8,458.4 277,302.17" fill="#b4b4b4"/>
<polygon points="277,349.02 337.8,300.1 337.8,300.5 277,349.22" fill="#b4b4b4"/>
<polygon points="277,496.6 337.8,487.98 337.8,488.4 277,496.8" fill="#b4b4b4"/>
<polygon points="277,512.15 337.8,455.33 337.8,455.8 277,512.3" fill="#b4b4b4"/>
<polygon points="277,315.15 337.8,305.5 337.8,305.94 277,315.35" fill="#b4b4b4"/>
<polygon points="277,349.22 337.8,306.56 337.8,307 277,349.42" fill="#b4b4b4"/>
<polygon points="277,302.37 337.8,494 337.8,494.44 277,302.57" fill="#b4b4b4"/>
<polygon points="277,302.17 337.8,478 337.8,478.47 277,302.37" fill="#b4b4b4"/>
<polygon points="277,314.65 337.8,293.8 337.8,294.3 277,314.85" fill="#b4b4b4"/>
<polygon points="277,323 337.8,296.8 337.8,297.3 277,323.2" fill="#b4b4b4"/>
<polygon points="277,323.2 337.8,309 337.8,309.5 277,323.4" fill="#b4b4b4"/>
<polygon points="277,332.22 337.8,311.8 337.8,312.3 277,332.42" fill="#b4b4b4"/>
<polygon points="277,357.33 337.8,309.5 337.8,310 277,357.53" fill="#b4b4b4"/>
<polygon points="277,365.92 337.8,294.3 337.8,294.8 277,366.12" fill="#b4b4b4"/>
<polygon points="277,366.12 337.8,312.3 337.8,312.8 277,366.32" fill="#b4b4b4"/>
<polygon points="277,373.9 337.8,297.3 337.8,297.8 277,374.1" fill="#b4b4b4"/>
<polygon points="277,516.6 337.8,517.95 337.8,518.5 277,516.8" fill="#b4b4b4"/>
<polygon points="277,517 337.8,523.45 337.8,524 277,517.2" fill="#b4b4b4"/>
<polygon points="277,515.4 337.8,500.45 337.8,501 277,515.6" fill="#b4b4b4"/>
<polygon points="277,512 337.8,450.57 337.8,451.2 277,512.15" fill="#b4b4b4"/>
<polygon points="277,515.9 337.8,506.86 337.8,507.5 277,516.1" fill="#b4b4b4"/>
<polygon points="277,437.88 337.8,503 337.8,503.7 277,438.03" fill="#b4b4b4"/>
<polygon points="277,435.03 337.8,430.8 337.8,431.55 277,435.15" fill="#b4b4b4"/>
<polygon points="277,435.15 337.8,433.8 337.8,434.55 277,435.27" fill="#b4b4b4"/>
<polygon points="277,435.39 337.8,439.8 337.8,440.55 277,435.51" fill="#b4b4b4"/>
<polygon points="277,435.66 337.8,446 337.8,446.75 277,435.78" fill="#b4b4b4"/>
<polygon points="277,314.85 337.8,299.5 337.8,300.1 277,315.15" fill="#b4b4b4"/>
<polygon points="277,340.45 337.8,305.94 337.8,306.56 277,340.75" fill="#b4b4b4"/>
<polygon points="277,512.8 337.8,466.37 337.8,467 277,513.1" fill="#b4b4b4"/>
<polygon points="277,436.48 337.8,465.2 337.8,465.98 277,436.68" fill="#b4b4b4"/>
<polygon points="277,435.27 337.8,436.8 337.8,437.8 277,435.39" fill="#939393"/>
<polygon points="277,516.4 337.8,514.8 337.8,515.8 277,516.6" fill="#939393"/>
<polygon points="277,516.8 337.8,520.2 337.8,521.2 277,517" fill="#939393"/>
<polygon points="277,517.2 337.8,526 337.8,527 277,517.4" fill="#939393"/>
<polygon points="277,438.03 337.8,509.8 337.8,510.88 277,438.18" fill="#939393"/>
<polygon points="277,435.51 337.8,442.8 337.8,444 277,435.66" fill="#939393"/>
<polygon points="277,515.6 337.8,503.7 337.8,504.8 277,515.9" fill="#939393"/>
<polygon points="277,437.58 337.8,494.44 337.8,495.68 277,437.78" fill="#939393"/>
<polygon points="277,433.43 337.8,385.5 337.8,386.8 277,433.62" fill="#939393"/>
<polygon points="277,435.98 337.8,454 337.8,455.33 277,436.18" fill="#939393"/>
<polygon points="277,436.18 337.8,458.67 337.8,460 277,436.48" fill="#939393"/>
<polygon points="277,435.78 337.8,449 337.8,450.57 277,435.98" fill="#939393"/>
<polygon points="277,516.1 337.8,510.88 337.8,512.5 277,516.4" fill="#939393"/>
<polygon points="277,437.28 337.8,486.28 337.8,487.98 277,437.58" fill="#939393"/>
<polygon points="277,432.62 337.8,365 337.8,366.8 277,432.82" fill="#939393"/>
<polygon points="277,436.98 337.8,478.47 337.8,480.2 277,437.28" fill="#939393"/>
<polygon points="277,436.68 337.8,469.55 337.8,471.5 277,436.98" fill="#939393"/>
<polygon points="277,514.9 337.8,495.68 337.8,497.8 277,515.4" fill="#959595"/>
<polygon points="277,512.3 337.8,460 337.8,462.8 277,512.8" fill="#959595"/>
<polygon points="277,514.3 337.8,488.4 337.8,491.8 277,514.9" fill="#959595"/>
<polygon points="277,513.7 337.8,480.2 337.8,483.8 277,514.3" fill="#959595"/>
<polygon points="277,513.1 337.8,471.5 337.8,475.5 277,513.7" fill="#959595"/>
<polygon points="277,432.23 337.8,356.5 337.8,362.5 277,432.62" fill="#959595"/>
<polygon points="277,299.97 337.8,315 337.8,323 277,301.37" fill="#959595"/>
<polygon points="277,432.82 337.8,369.8 337.8,383.8 277,433.43" fill="#959595"/>
<polygon points="277,434.43 337.8,414 337.8,429 277,435.03" fill="#959595"/>
<polygon points="277,433.62 337.8,389.82 337.8,410.82 277,434.43" fill="#959595"/>
<polygon points="277,430.23 337.8,323.5 337.8,353.5 277,432.23" fill="#959595"/>
</g>
<g fill="rgb(10,176,45)">
<rect x="261.2" y="293.8" width="15.8" height="12.8"/>
<rect x="261.2" y="314.2" width="15.8" height="1.8"/>
<rect x="261.2" y="323" width="15.8" height="1" fill="rgb(150,218,162)"/>
<rect x="261.2" y="331.6" width="15.8" height="1.6"/>
<rect x="261.2" y="340" width="15.8" height="1" fill="rgb(150,218,162)"/>
<rect x="261.2" y="348.6" width="15.8" height="1.6"/>
<rect x="261.2" y="357" width="15.8" height="1" fill="rgb(150,218,162)"/>
<rect x="261.2" y="365.4" width="15.8" height="1.8"/>
<rect x="261.2" y="374" width="15.8" height="1" fill="rgb(150,218,162)"/>
<rect x="261.2" y="382.4" width="15.8" height="106.2"/>
<rect x="261.2" y="496" width="15.8" height="1" fill="rgb(150,218,162)"/>
<rect x="261.2" y="504.4" width="15.8" height="22.6"/>
</g>
<g fill="rgb(5,166,226)">
<rect x="337.8" y="294" width="15.7" height="1" fill="rgb(160,216,240)"/>
<rect x="337.8" y="297" width="15.7" height="1" fill="rgb(160,216,240)"/>
<rect x="337.8" y="300" width="15.7" height="1" fill="rgb(160,216,240)"/>
<rect x="337.8" y="302" width="15.7" height="1" fill="rgb(160,216,240)"/>
<rect x="337.8" y="305.5" width="15.7" height="1.5"/>
<rect x="337.8" y="309" width="15.7" height="1" fill="rgb(160,216,240)"/>
<rect x="337.8" y="312" width="15.7" height="1" fill="rgb(160,216,240)"/>
<rect x="337.8" y="315" width="15.7" height="38.5"/>
<rect x="337.8" y="356" width="15.7" height="6.5"/>
<rect x="337.8" y="365" width="15.7" height="1.8"/>
<rect x="337.8" y="369" width="15.7" height="14.8"/>
<rect x="337.8" y="385.5" width="15.7" height="1.3"/>
<rect x="337.8" y="389" width="15.7" height="22"/>
<rect x="337.8" y="413.2" width="15.7" height="15.8"/>
<rect x="337.8" y="431" width="15.7" height="1" fill="rgb(160,216,240)"/>
<rect x="337.8" y="434" width="15.7" height="1" fill="rgb(160,216,240)"/>
<rect x="337.8" y="437" width="15.7" height="1" fill="rgb(160,216,240)"/>
<rect x="337.8" y="440" width="15.7" height="1" fill="rgb(160,216,240)"/>
<rect x="337.8" y="443" width="15.7" height="1" fill="rgb(160,216,240)"/>
<rect x="337.8" y="446" width="15.7" height="1" fill="rgb(160,216,240)"/>
<rect x="337.8" y="449" width="15.7" height="2.2"/>
<rect x="337.8" y="454" width="15.7" height="1.8"/>
<rect x="337.8" y="458" width="15.7" height="4.8"/>
<rect x="337.8" y="465.2" width="15.7" height="1.8"/>
<rect x="337.8" y="469.2" width="15.7" height="6.3"/>
<rect x="337.8" y="478" width="15.7" height="5.8"/>
<rect x="337.8" y="486" width="15.7" height="5.8"/>
<rect x="337.8" y="494" width="15.7" height="3.8"/>
<rect x="337.8" y="500" width="15.7" height="1" fill="rgb(160,216,240)"/>
<rect x="337.8" y="503" width="15.7" height="1.8"/>
<rect x="337.8" y="506" width="15.7" height="1" fill="rgb(160,216,240)"/>
<rect x="337.8" y="509.8" width="15.7" height="2.7"/>
<rect x="337.8" y="515" width="15.7" height="1" fill="rgb(160,216,240)"/>
<rect x="337.8" y="518" width="15.7" height="1" fill="rgb(160,216,240)"/>
<rect x="337.8" y="520" width="15.7" height="1" fill="rgb(160,216,240)"/>
<rect x="337.8" y="523" width="15.7" height="1" fill="rgb(160,216,240)"/>
<rect x="337.8" y="526" width="15.7" height="1" fill="rgb(160,216,240)"/>
</g>
<g font-size="3.4" fill="#000" stroke="#000" stroke-width="0.08" text-anchor="end">
<text x="256.9" y="301.42">Adenophora_coelestis</text>
<text x="256.9" y="316.32">Aletris_pauciflora_khasiana</text>
<text x="256.9" y="324.62">Anaphalis_aureo-punctata</text>
<text x="256.9" y="333.62">Aster_jeffreyanus</text>
<text x="256.9" y="341.82">Astragalus_pullus</text>
<text x="256.9" y="350.62">Cirsium_lidjiangense</text>
<text x="256.9" y="358.82">Elsholtzia_fruticosa</text>
<text x="256.9" y="367.52">Geranium_strictipes</text>
<text x="256.9" y="375.42">Polygonum_paleaceum</text>
<text x="256.9" y="436.72">Rhododendron_decorum</text>
<text x="256.9" y="497.82">Rhododendron_yunnanense</text>
<text x="256.9" y="516.92">Skapanthus_oreophilus</text>
</g>
<g font-size="3.4" fill="#000" stroke="#000" stroke-width="0.08">
<text x="357.8" y="295.52">Bakerhila_imomesa</text>
<text x="357.8" y="298.52">Brassicogethes_affinis</text>
<text x="357.8" y="301.22">Bruchidia_sp2</text>
<text x="357.8" y="304.02">Cortodemasius_castaneus</text>
<text x="357.8" y="307.47">Epuraeinae_sp1</text>
<text x="357.8" y="310.72">Epuraeinae_sp12</text>
<text x="357.8" y="313.52">Epuraeinae_sp2</text>
<text x="357.8" y="335.47">Epuraeinae_sp5</text>
<text x="357.8" y="360.47">Epuraeinae_sp6</text>
<text x="357.8" y="367.12">Epuraeinae_sp7</text>
<text x="357.8" y="377.62">Epuraeinae_sp8</text>
<text x="357.8" y="387.37">Epuraeinae_sp9</text>
<text x="357.8" y="401.22">Eusphalerum_sp1</text>
<text x="357.8" y="422.32">Eusphalerum_sp2</text>
<text x="357.8" y="432.52">Eusphalerum_sp3</text>
<text x="357.8" y="435.52">Galerucinae_sp11</text>
<text x="357.8" y="438.52">Galerucinae_sp5</text>
<text x="357.8" y="441.52">Gametis_jucunda</text>
<text x="357.8" y="444.62">Hesperia_elegans</text>
<text x="357.8" y="447.72">Lamiogethes_chinocupreus</text>
<text x="357.8" y="451.32">Lamiogethes_pseudominutangulatus</text>
<text x="357.8" y="456.12">Lamiogethes_sp1</text>
<text x="357.8" y="461.62">Lamiogethes_sp2</text>
<text x="357.8" y="467.32">Lamiogethes_sp3</text>
<text x="357.8" y="473.57">Lamiogethes_sp4</text>
<text x="357.8" y="482.12">Lamiogethes_sp5</text>
<text x="357.8" y="490.12">Meligethes_auripilis</text>
<text x="357.8" y="497.12">Meligethes_binotatus</text>
<text x="357.8" y="501.72">Meligethes_chinensis</text>
<text x="357.8" y="505.12">Meligethinae</text>
<text x="357.8" y="508.22">Meligethinae_sp2</text>
<text x="357.8" y="512.37">Meligethinae_sp5</text>
<text x="357.8" y="516.52">Nitidulinae_sp1</text>
<text x="357.8" y="519.22">Orthomeris_sp</text>
<text x="357.8" y="521.92">Scraptiidae_sp</text>
<text x="357.8" y="524.72">Protaetia_sp</text>
<text x="357.8" y="527.72">Xenylomoderes_sp</text>
</g>
<text x="309.5" y="543.9" font-size="6.7" text-anchor="middle" fill="#000" stroke="#000" stroke-width="0.12" textLength="56.4" lengthAdjust="spacingAndGlyphs">High elevation forest</text>
<g transform="translate(268.6,283.4)"><ellipse cx="-0.4" cy="-6.6" rx="2.6" ry="1.9" fill="#8ed88a" opacity="0.6"/><ellipse cx="-5.0" cy="-1.2" rx="2.8" ry="2.3" fill="#8ed88a" opacity="0.45"/><ellipse cx="5.2" cy="-1.8" rx="2.4" ry="1.9" fill="#8ed88a" opacity="0.4"/><ellipse cx="-3.2" cy="4.2" rx="1.8" ry="1.6" fill="#8ed88a" opacity="0.3"/><ellipse cx="3.4" cy="3.8" rx="1.8" ry="1.6" fill="#8ed88a" opacity="0.3"/><ellipse cx="0" cy="-0.6" rx="2.6" ry="3.8" fill="#4d8a1c" opacity=".9"/><ellipse cx="0.1" cy="0" rx="1.3" ry="1.6" fill="#b8a836"/><circle cx="0.1" cy="0.4" r=".6" fill="#6a5010"/><circle cx="-4.3" cy="1.9" r="1.0" fill="#0f4a12"/><circle cx="-0.1" cy="4.9" r="1.0" fill="#0f4a12"/><circle cx="4.7" cy="0.9" r="0.95" fill="#0f4a12"/><circle cx="2.4" cy="-3.8" r="0.8" fill="#0f4a12"/><circle cx="-1.2" cy="2.6" r="0.6" fill="#0f4a12"/></g>
<g transform="translate(346,281.7)"><ellipse cx="0" cy="0" rx="3.6" ry="6.4" fill="#2a1a0c"/><ellipse cx="0" cy="0.3" rx="2.6" ry="4.6" fill="#4a3418"/><ellipse cx="0" cy="0.4" rx="1.6" ry="3" fill="#9a8f80"/><ellipse cx="0" cy="0.4" rx="1" ry="2.1" fill="#3a2a18"/><ellipse cx="0" cy="-5" rx="1.8" ry="1" fill="#1a0f05"/></g>
</svg></body></html>
